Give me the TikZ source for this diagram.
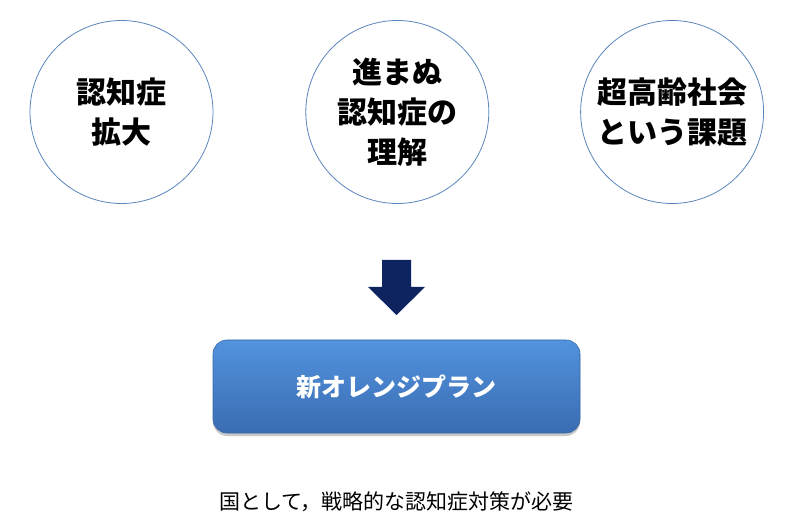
\documentclass[tikz,border=0pt]{standalone}
\usepackage{fontspec}
\setmainfont{Noto Sans CJK JP}
\usepackage{tikz}
\usetikzlibrary{positioning,shadows}
\definecolor{ringline}{HTML}{5A86BE}
\definecolor{navyarrow}{HTML}{0E2461}
\definecolor{plantop}{HTML}{5293DE}
\definecolor{planbot}{HTML}{3A6CB2}
\definecolor{planedge}{HTML}{3867A6}
\tikzset{
  ring/.style   = {circle, draw=ringline, line width=0.8pt, minimum size=183pt,
                   inner sep=0pt, align=center,
                   font=\fontsize{30}{40}\selectfont\bfseries},
  planbox/.style = {rounded corners=14pt, draw=planedge, line width=0.6pt,
                   top color=plantop, bottom color=planbot,
                   minimum width=367pt, minimum height=93pt, text=white,
                   font=\fontsize{25}{30}\selectfont\bfseries,
                   drop shadow={shadow xshift=0pt, shadow yshift=-3pt,
                                opacity=.3, fill=black!70}},
  note/.style   = {font=\fontsize{21}{24}\selectfont, inner sep=0pt},
}
\begin{document}
\begin{tikzpicture}[x=1pt, y=-1pt]
  \useasboundingbox[fill=white] (0,0) rectangle (790,529);
  \node[ring] (spread) at (121.5,112) {認知症\\拡大};
  \node[ring, right=92pt of spread] (understand) {進まぬ\\認知症の\\理解};
  \node[ring, right=91pt of understand] (aging) {超高齢社会\\という課題};
  % down arrow
  \fill[navyarrow] (382,260) -- (411,260) -- (411,287) -- (425,287)
    -- (396.5,315) -- (368,287) -- (382,287) -- cycle;
  \node[planbox] (plan) at (396.5,386.5) {新オレンジプラン};
  \node[note, below=58pt of plan] (need) {国として，戦略的な認知症対策が必要};
\end{tikzpicture}
\end{document}
